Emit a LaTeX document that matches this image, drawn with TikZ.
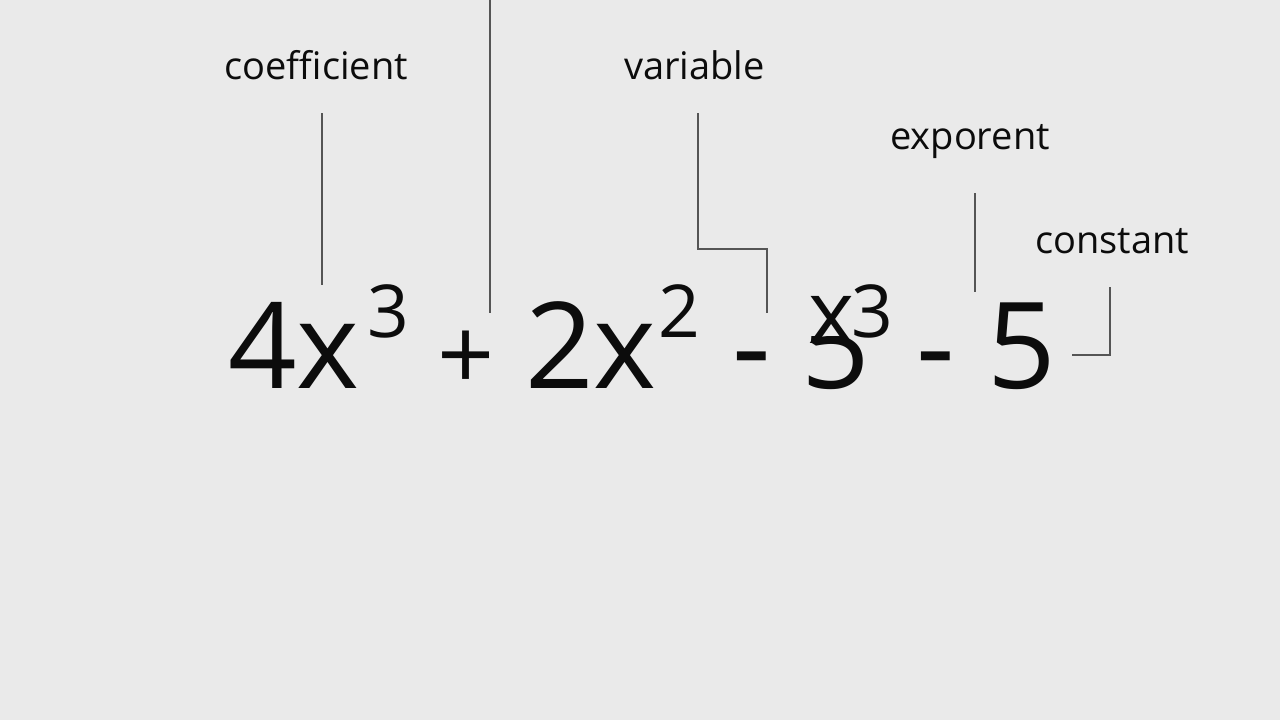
\documentclass[tikz,border=0pt]{standalone}
\usepackage{fontspec}
\setmainfont{Open Sans}
\definecolor{bg}{HTML}{EAEAEA}
\definecolor{ink}{HTML}{0C0C0C}
\definecolor{wire}{HTML}{555555}
\begin{document}
\begin{tikzpicture}[x=1pt,y=-1pt,
  lbl/.style={font=\fontsize{38}{38}\selectfont, text=ink, inner sep=0, anchor=base},
  big/.style={font=\fontsize{120}{120}\selectfont, text=ink, inner sep=0, anchor=base west},
  plusstyle/.style={font=\fontsize{100}{100}\selectfont, text=ink, inner sep=0, anchor=base west},
  supr/.style={font=\fontsize{73}{73}\selectfont, text=ink, inner sep=0, anchor=base west},
  mid/.style={font=\fontsize{88}{88}\selectfont, text=ink, inner sep=0, anchor=base west},
  wireline/.style={draw=wire, line width=1.3pt}]
\fill[bg] (0,0) rectangle (1280,720);
\useasboundingbox (0,0) rectangle (1280,720);
% labels
\node[lbl] (coef) at (316,79) {coefficient};
\node[lbl] (var) at (694.5,79) {variable};
\node[lbl] (expo) at (970,149) {exporent};
\node[lbl] (const) at (1112,253) {constant};
% expression
\node[big] (t4x) at (228,388) {4x};
\node[supr] (s1) at (367,337) {3};
\node[plusstyle] (plus) at (437,390) {+};
\node[big] (t2x) at (525,388) {2x};
\node[supr] (s2) at (658,337) {2};
\node[big] (m1) at (732,388) {-};
\begin{scope}
  \clip (790,336) rectangle (880,400);
  \node[big] (t5a) at (801,388) {5};
\end{scope}
\node[mid] (tx) at (808,343) {x};
\node[supr] (s3) at (851,337) {3};
\node[big] (m2) at (916,388) {-};
\node[big] (t5b) at (987,388) {5};
% connector ends
\coordinate (c1a) at (322,113); \coordinate (c1b) at (322,285);
\coordinate (c2a) at (490,0);   \coordinate (c2b) at (490,313);
\coordinate (c3a) at (698,113); \coordinate (c3b) at (767,313);
\coordinate (c4a) at (975,193); \coordinate (c4b) at (975,292);
\coordinate (c5a) at (1110,287); \coordinate (c5b) at (1072,355);
\draw[wireline] (c1a) -- (c1b);
\draw[wireline] (c2a) -- (c2b);
\draw[wireline] (c3a) -- (698,249) -| (c3b);
\draw[wireline] (c4a) -- (c4b);
\draw[wireline] (c5a) |- (c5b);
\end{tikzpicture}
\end{document}
